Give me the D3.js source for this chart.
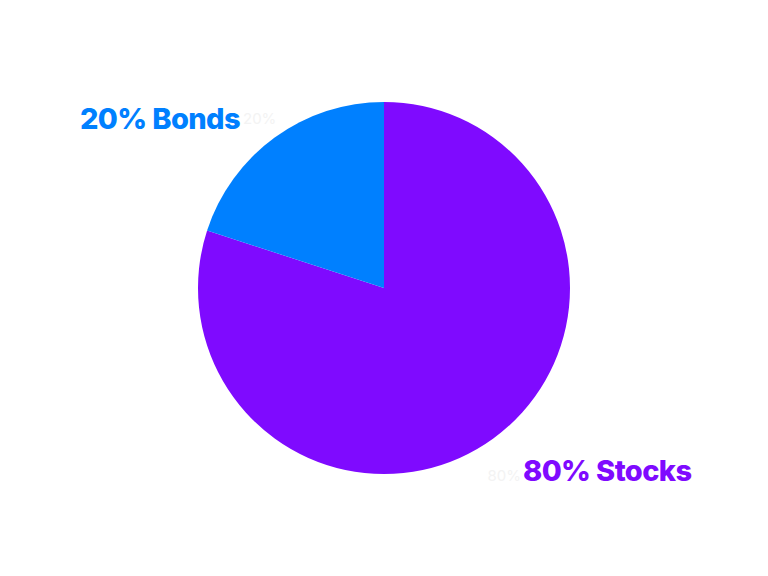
<!DOCTYPE html>
<html><head><meta charset="utf-8">
<script src="https://cdn.jsdelivr.net/npm/d3@7"></script>
<style>html,body{margin:0;padding:0;background:#fff;}</style>
</head><body>
<svg id="chart" width="768" height="576"></svg>
<script>
const categories = ["Stocks", "Bonds"];
const values = [80, 20];
const colors = ["#7F0AFF", "#0080FF"];
const labels = ["80% Stocks", "20% Bonds"];
const faintLabels = ["80%", "20%"];

const svg = d3.select("#chart");
const cx = 384, cy = 288, r = 186;
const g = svg.append("g").attr("transform", `translate(${cx},${cy})`);
const pie = d3.pie().sort(null).value(d => d)(values);
const arc = d3.arc().innerRadius(0).outerRadius(r);
g.selectAll("path").data(pie).enter().append("path")
  .attr("d", arc).attr("fill", (d, i) => colors[i]);

const font = "Inter, 'DejaVu Sans', sans-serif";
// Bonds label (top-left)
svg.append("text").attr("x", 240).attr("y", 129).attr("text-anchor", "end")
  .attr("font-family", font).attr("font-weight", 800).attr("font-size", 29)
  .attr("letter-spacing", -0.6).attr("fill", colors[1]).text(labels[1]);
svg.append("text").attr("x", 243).attr("y", 124).attr("text-anchor", "start")
  .attr("font-family", font).attr("font-size", 15).attr("fill", "#f3f3f3").text(faintLabels[1]);
// Stocks label (bottom-right)
svg.append("text").attr("x", 523).attr("y", 481).attr("text-anchor", "start")
  .attr("font-family", font).attr("font-weight", 800).attr("font-size", 29)
  .attr("letter-spacing", -0.6).attr("fill", colors[0]).text(labels[0]);
svg.append("text").attr("x", 521).attr("y", 481).attr("text-anchor", "end")
  .attr("font-family", font).attr("font-size", 15).attr("fill", "#f3f3f3").text(faintLabels[0]);
</script>
</body></html>
